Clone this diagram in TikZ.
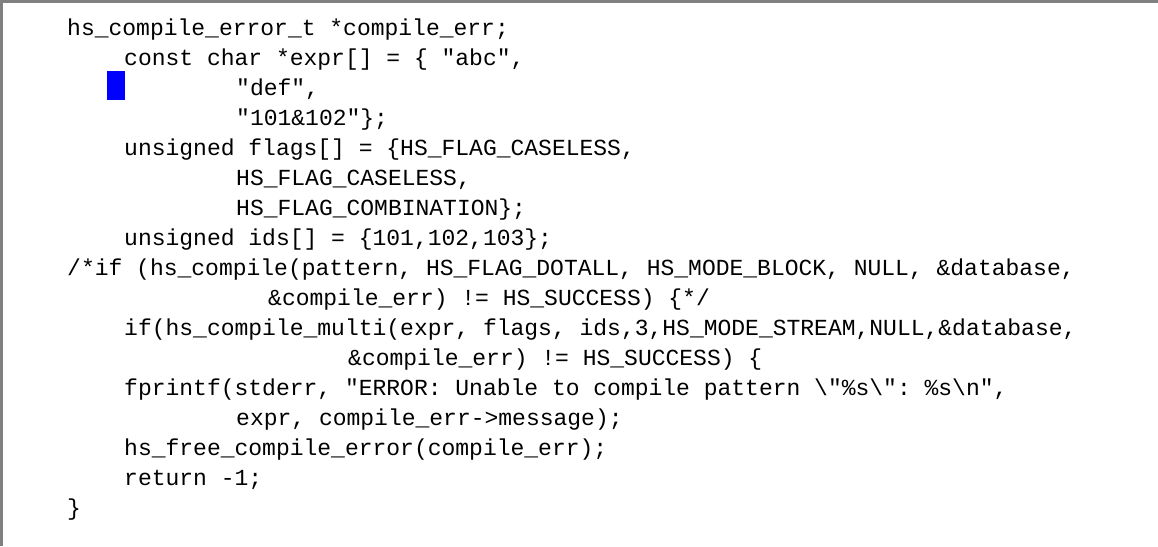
\documentclass[tikz,border=0pt]{standalone}
\usepackage{fontspec}
\setmonofont{Liberation Mono}
\begin{document}
\begin{tikzpicture}[x=1pt,y=-1pt,
  code/.style={anchor=base west,inner sep=0pt,font=\ttfamily\fontsize{23}{23}\selectfont}]
\useasboundingbox (0,0) rectangle (1158,546);
\fill[white] (0,0) rectangle (1158,546);
\draw[gray,line width=3pt] (1.5,546) -- (1.5,1.5) -- (1158,1.5);
\fill[blue] (107,71) rectangle (125,100);
\node[code] (l0) at (67,35) {hs\_compile\_error\_t *compile\_err;};
\node[code] (l1) at (124,65) {const char *expr[] = \{ "abc",};
\node[code] (l2) at (236,95) {"def",};
\node[code] (l3) at (236,125) {"101\&102"\};};
\node[code] (l4) at (124,155) {unsigned flags[] = \{HS\_FLAG\_CASELESS,};
\node[code] (l5) at (236,185) {HS\_FLAG\_CASELESS,};
\node[code] (l6) at (236,215) {HS\_FLAG\_COMBINATION\};};
\node[code] (l7) at (124,245) {unsigned ids[] = \{101,102,103\};};
\node[code] (l8) at (67,275) {/*if (hs\_compile(pattern, HS\_FLAG\_DOTALL, HS\_MODE\_BLOCK, NULL, \&database,};
\node[code] (l9) at (268,305) {\&compile\_err) != HS\_SUCCESS) \{*/};
\node[code] (l10) at (124,335) {if(hs\_compile\_multi(expr, flags, ids,3,HS\_MODE\_STREAM,NULL,\&database,};
\node[code] (l11) at (348,365) {\&compile\_err) != HS\_SUCCESS) \{};
\node[code] (l12) at (124,395) {fprintf(stderr, "ERROR: Unable to compile pattern \textbackslash"\%s\textbackslash": \%s\textbackslash n",};
\node[code] (l13) at (236,425) {expr, compile\_err->message);};
\node[code] (l14) at (124,455) {hs\_free\_compile\_error(compile\_err);};
\node[code] (l15) at (124,485) {return -1;};
\node[code] (l16) at (67,515) {\}};
\end{tikzpicture}
\end{document}
